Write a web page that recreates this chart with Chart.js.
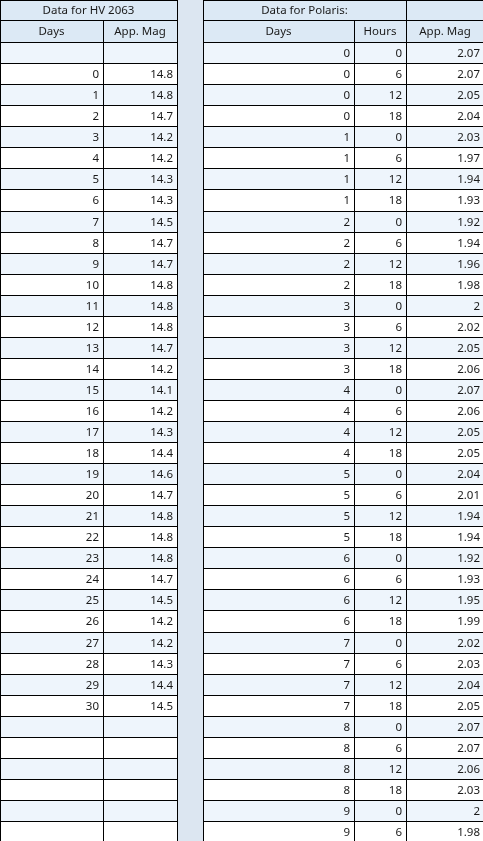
<!DOCTYPE html>
<html>
<head>
<meta charset="utf-8">
<script src="https://cdn.jsdelivr.net/npm/chart.js@4"></script>
<style>
  html, body { margin: 0; padding: 0; background: #fff; }
  #wrap { width: 483px; height: 841px; }
</style>
</head>
<body>
<div id="wrap"><canvas id="tabla"></canvas></div>
<script>
// Datos HV 2063
const hvDays = [0,1,2,3,4,5,6,7,8,9,10,11,12,13,14,15,16,17,18,19,20,21,22,23,24,25,26,27,28,29,30]
const hvMag = [14.8,14.8,14.7,14.2,14.2,14.3,14.3,14.5,14.7,14.7,14.8,14.8,14.8,14.7,14.2,14.1,14.2,14.3,14.4,14.6,14.7,14.8,14.8,14.8,14.7,14.5,14.2,14.2,14.3,14.4,14.5]

// Datos Polaris
const polDays = [0,0,0,0,1,1,1,1,2,2,2,2,3,3,3,3,4,4,4,4,5,5,5,5,6,6,6,6,7,7,7,7,8,8,8,8,9,9]
const polHours = [0,6,12,18,0,6,12,18,0,6,12,18,0,6,12,18,0,6,12,18,0,6,12,18,0,6,12,18,0,6,12,18,0,6,12,18,0,6]
const polMag = [2.07,2.07,2.05,2.04,2.03,1.97,1.94,1.93,1.92,1.94,1.96,1.98,2,2.02,2.05,2.06,2.07,2.06,2.05,2.05,2.04,2.01,1.94,1.94,1.92,1.93,1.95,1.99,2.02,2.03,2.04,2.05,2.07,2.07,2.06,2.03,2,1.98]

const titles = ["Data for HV 2063", "Data for Polaris:"]
const headers = ["Days", "App. Mag", "", "Days", "Hours", "App. Mag"]

// Límites de columnas (en unidades del eje x)
const cols = [0, 103, 177, 203, 353, 405, 483]
const totalRows = 2 + polMag.length

const tablaPlugin = {
  id: "tabla",
  afterDraw(chart) {
    const ctx = chart.ctx
    const x = chart.scales.x
    const y = chart.scales.y
    const px = (v) => Math.round(x.getPixelForValue(v))
    const py = (r) => Math.round(r === 0 ? y.getPixelForValue(0) : y.getPixelForValue(r === 1 ? 0.94 : r))

    ctx.save()
    ctx.font = "11.5px 'Noto Sans', sans-serif"
    ctx.textBaseline = "middle"

    const cell = (c, r, text, align, fill, c2) => {
      const x0 = px(cols[c]), x1 = px(cols[(c2 ?? c) + 1])
      const y0 = py(r), y1 = py(r + 1)
      if (fill) { ctx.fillStyle = fill; ctx.fillRect(x0, y0, x1 - x0, y1 - y0) }
      ctx.strokeStyle = "#000"
      ctx.lineWidth = 1
      ctx.strokeRect(x0 + 0.5, y0 + 0.5, x1 - x0, y1 - y0)
      if (text !== "" && text !== undefined) {
        ctx.fillStyle = "#1a1a1a"
        const ym = (y0 + y1) / 2 + 1
        if (align === "center") { ctx.textAlign = "center"; ctx.fillText(text, (x0 + x1) / 2, ym) }
        else { ctx.textAlign = "right"; ctx.fillText(text, x1 - 4, ym) }
      }
    }

    const headFill = "#dce9f5"
    // Fila de títulos
    cell(0, 0, titles[0], "center", headFill, 1)
    cell(3, 0, titles[1], "center", headFill, 4)
    cell(5, 0, "", "center", headFill)
    // Encabezados
    headers.forEach((h, c) => { if (c !== 2) cell(c, 1, h, "center", headFill) })

    // Filas de datos
    for (let i = 0; i < polMag.length; i++) {
      const r = i + 2
      const fill = i % 2 === 0 ? "#eef5fc" : "#ffffff"
      const hi = i - 1
      cell(0, r, hi >= 0 && hi < hvDays.length ? String(hvDays[hi]) : "", "right", fill)
      cell(1, r, hi >= 0 && hi < hvMag.length ? String(hvMag[hi]) : "", "right", fill)
      cell(3, r, String(polDays[i]), "right", fill)
      cell(4, r, String(polHours[i]), "right", fill)
      cell(5, r, String(polMag[i]), "right", fill)
    }

    // Columna separadora
    const gx0 = px(cols[2]), gx1 = px(cols[3])
    ctx.fillStyle = "#dce6f1"
    ctx.fillRect(gx0 + 1, py(0), gx1 - gx0 - 1, py(totalRows) - py(0))
    ctx.strokeStyle = "#000"
    ctx.beginPath()
    ctx.moveTo(gx0 + 0.5, py(0)); ctx.lineTo(gx0 + 0.5, py(totalRows))
    ctx.moveTo(gx1 + 0.5, py(0)); ctx.lineTo(gx1 + 0.5, py(totalRows))
    ctx.stroke()
    ctx.restore()
  }
}

new Chart(document.getElementById("tabla"), {
  type: "scatter",
  data: { datasets: [{ data: [] }] },
  options: {
    responsive: true,
    maintainAspectRatio: false,
    animation: false,
    layout: { padding: 0 },
    plugins: { legend: { display: false }, tooltip: { enabled: false } },
    scales: {
      x: { type: "linear", min: 0, max: 482, display: false },
      y: { type: "linear", min: 0, max: totalRows - 0.05, reverse: true, display: false }
    }
  },
  plugins: [tablaPlugin]
})
</script>
</body>
</html>
